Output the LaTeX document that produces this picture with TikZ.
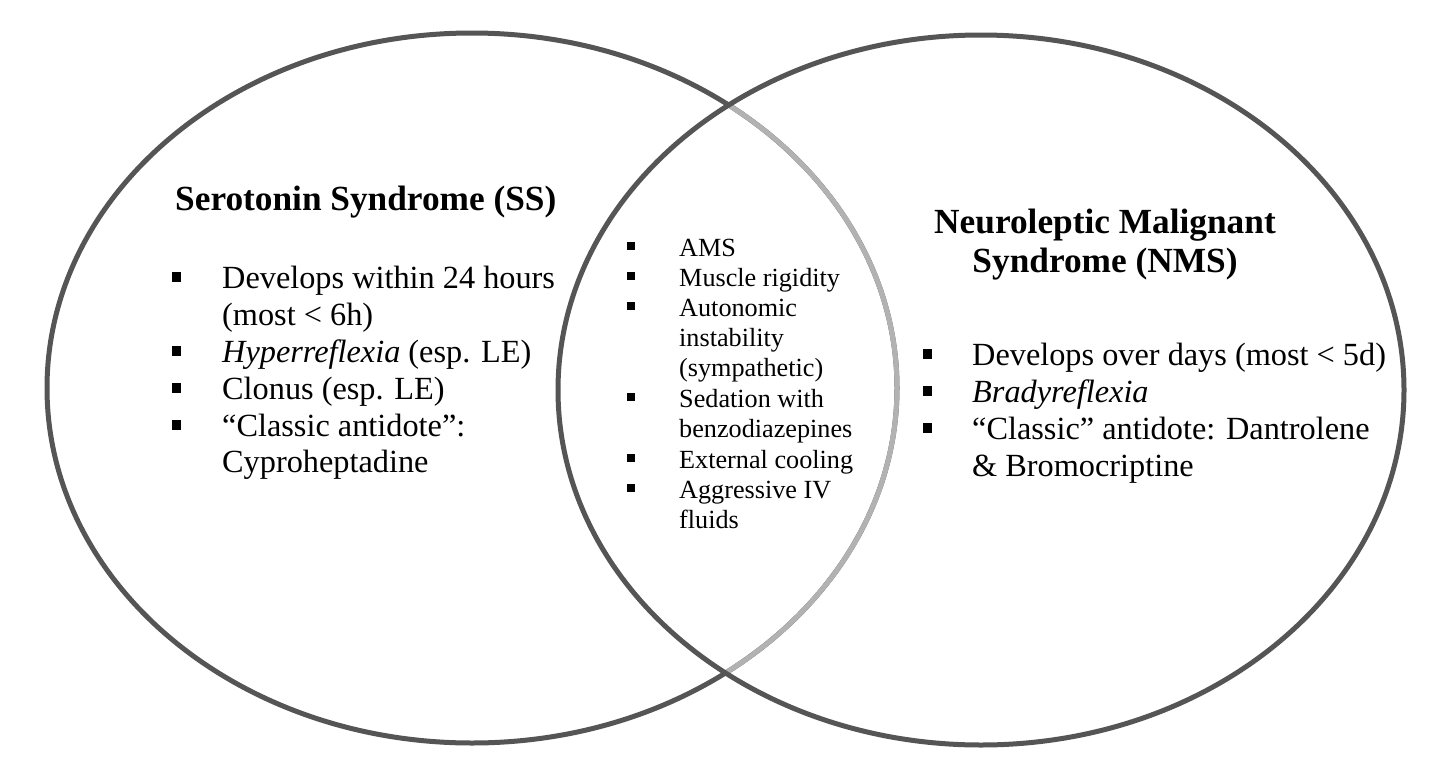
\documentclass[tikz,border=0pt]{standalone}
\usepackage{fontspec}
\setmainfont{Liberation Serif}
\definecolor{ringdark}{HTML}{555555}
\definecolor{ringlight}{HTML}{B2B2B2}
\tikzset{
  ring/.style={line width=5pt, draw=ringdark},
  hd/.style={inner sep=0pt, font=\bfseries\fontsize{35.3}{40}\selectfont},
  bd/.style={inner sep=0pt, anchor=base west, font=\fontsize{32.3}{37}\selectfont},
  ct/.style={inner sep=0pt, anchor=base west, font=\fontsize{26.2}{30}\selectfont},
  bul/.style={rectangle, fill=black, inner sep=0pt, minimum width=9pt, minimum height=10pt},
  cbul/.style={rectangle, fill=black, inner sep=0pt, minimum width=7.5pt, minimum height=8pt},
}
\begin{document}
\begin{tikzpicture}[x=1pt,y=-1pt]
\useasboundingbox (0,0) rectangle (1440,774);
\fill[white] (0,0) rectangle (1440,774);
% circles
\draw[ring] (472,388) ellipse [x radius=425pt, y radius=355pt];
\begin{scope}
  \clip (981,390) ellipse [x radius=423pt, y radius=355pt];
  \draw[ring, draw=ringlight] (472,388) ellipse [x radius=425pt, y radius=355pt];
\end{scope}
\draw[ring] (981,390) ellipse [x radius=423pt, y radius=355pt];

% left: Serotonin Syndrome
\node[hd, anchor=base west] (ssT) at (175,210) {Serotonin Syndrome (SS)};
\node[bul] (sb1) at (176,277) {};
\node[bd] (s1) at (222,288) {Develops within 24 hours};
\node[bd] (s1b) at (222,325) {(most < 6h)};
\node[bul] (sb2) at (176,351) {};
\node[bd] (s2) at (222,362) {\textit{Hyperreflexia} (esp. LE)};
\node[bul] (sb3) at (176,388) {};
\node[bd] (s3) at (222,399) {Clonus (esp. LE)};
\node[bul] (sb4) at (176,425) {};
\node[bd] (s4) at (222,436) {“Classic antidote”:};
\node[bd] (s4b) at (222,472) {Cyproheptadine};

% center: shared
\node[cbul] (cb1) at (631,246) {};
\node[ct] (c1) at (679,256) {AMS};
\node[cbul] (cb2) at (631,276) {};
\node[ct] (c2) at (679,286) {Muscle rigidity};
\node[cbul] (cb3) at (631,306) {};
\node[ct] (c3) at (679,316) {Autonomic};
\node[ct] (c3b) at (679,346) {instability};
\node[ct] (c3c) at (679,376) {(sympathetic)};
\node[cbul] (cb4) at (631,397) {};
\node[ct] (c4) at (679,407) {Sedation with};
\node[ct] (c4b) at (679,437) {benzodiazepines};
\node[cbul] (cb5) at (631,458) {};
\node[ct] (c5) at (679,468) {External cooling};
\node[cbul] (cb6) at (631,488) {};
\node[ct] (c6) at (679,498) {Aggressive IV};
\node[ct] (c6b) at (679,528) {fluids};

% right: NMS
\node[hd, anchor=base] (nmsT1) at (1105,233) {Neuroleptic Malignant};
\node[hd, anchor=base] (nmsT2) at (1105,272) {Syndrome (NMS)};
\node[bul] (nb1) at (927,354) {};
\node[bd] (n1) at (972,365) {Develops over days (most < 5d)};
\node[bul] (nb2) at (927,391) {};
\node[bd] (n2) at (972,402) {\textit{Bradyreflexia}};
\node[bul] (nb3) at (927,428) {};
\node[bd] (n3) at (972,439) {“Classic” antidote: Dantrolene};
\node[bd] (n3b) at (972,476) {\& Bromocriptine};
\end{tikzpicture}
\end{document}
